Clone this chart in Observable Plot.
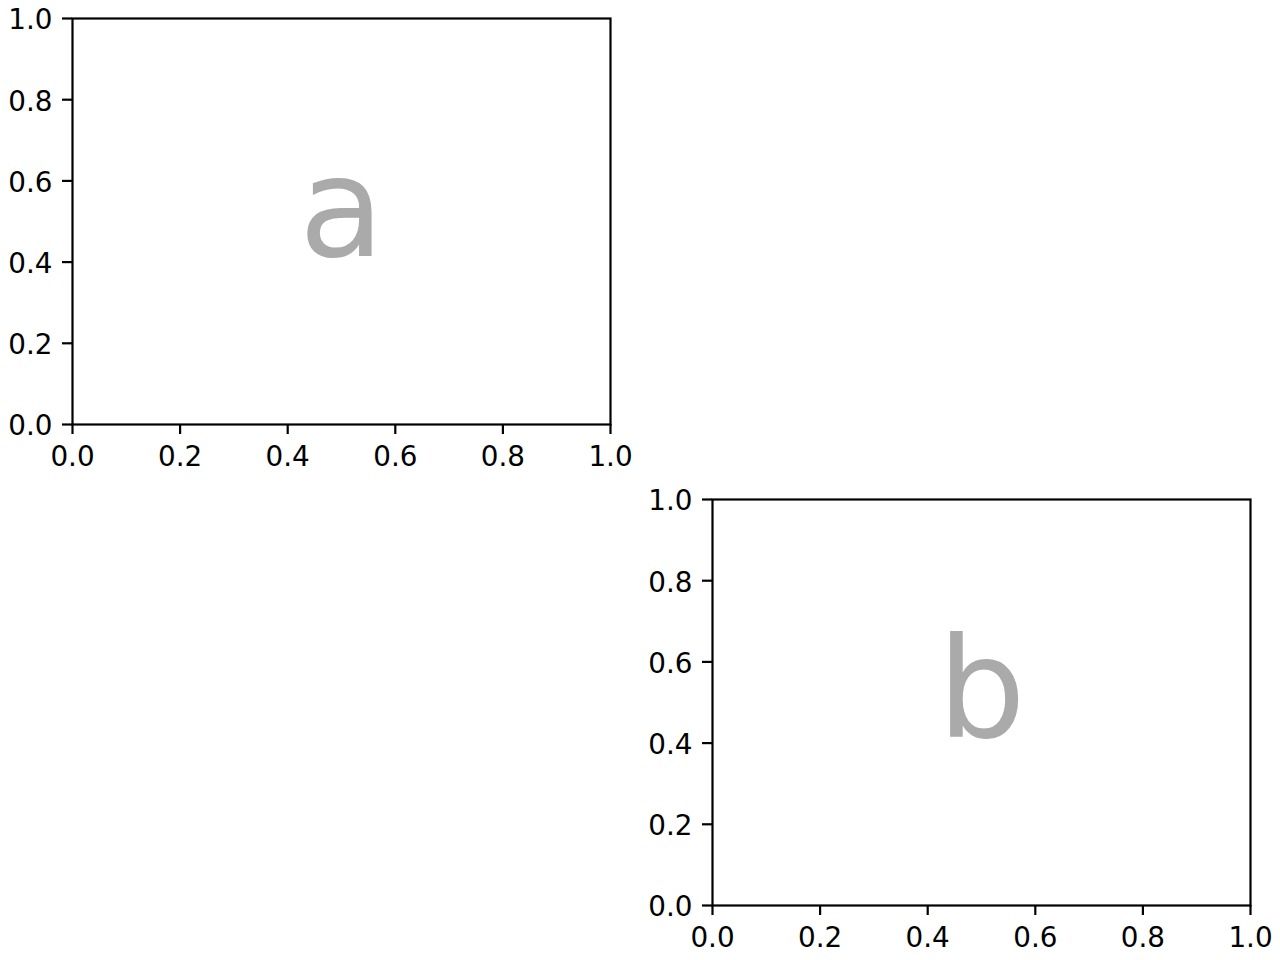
<!DOCTYPE html>
<html>
<head>
<meta charset="utf-8">
<script src="https://cdn.jsdelivr.net/npm/d3@7"></script>
<script src="https://cdn.jsdelivr.net/npm/@observablehq/plot@0.6"></script>
<style>
  html, body { margin: 0; padding: 0; background: #fff; }
  #fig { position: relative; width: 1280px; height: 960px; background: #fff; }
  #fig > div { position: absolute; }
</style>
</head>
<body>
<div id="fig">
  <div id="pa" style="left:0px; top:0px;"></div>
  <div id="pb" style="left:640px; top:480px;"></div>
</div>
<script>
// Data
const panelLabels = ["a", "b"];
const labelX = [0.5, 0.5];
const labelY = [0.5, 0.5];
const tickValues = [0, 0.2, 0.4, 0.6, 0.8, 1.0];
const axisDomain = [0, 1];

const FONT = "DejaVu Sans";
const TICK_FS = 27.8;

function panel(i, marginTop) {
  return Plot.plot({
    width: 640,
    height: 480,
    marginLeft: 72,
    marginRight: 30,
    marginTop: marginTop,
    marginBottom: 480 - marginTop - 406,
    x: { domain: axisDomain },
    y: { domain: axisDomain },
    style: {
      fontFamily: FONT,
      fontSize: TICK_FS + "px",
      color: "black",
      background: "transparent",
      overflow: "visible"
    },
    marks: [
      Plot.frame({ stroke: "black", strokeWidth: 2.2 }),
      Plot.axisX({
        ticks: tickValues,
        tickFormat: d3.format(".1f"),
        tickSize: 10,
        tickPadding: 12,
        strokeWidth: 2.2,
        fontSize: TICK_FS,
        fill: "black",
        stroke: "black",
        label: null
      }),
      // y tick marks only
      Plot.axisY({
        ticks: tickValues,
        tickSize: 10,
        text: null,
        strokeWidth: 2.2,
        stroke: "black",
        label: null
      }),
      // y tick labels only
      Plot.axisY({
        ticks: tickValues,
        tickFormat: d3.format(".1f"),
        tickSize: 0,
        tickPadding: 20,
        strokeOpacity: 0,
        fontSize: TICK_FS,
        fill: "black",
        dy: 2,
        label: null
      }),
      Plot.text([panelLabels[i]], {
        x: () => labelX[i],
        y: () => labelY[i],
        text: d => d,
        fontSize: 139,
        fill: "#aaaaaa",
        fontFamily: FONT,
        textAnchor: "middle",
        lineAnchor: "middle",
        dy: -10
      })
    ]
  });
}

document.getElementById("pa").appendChild(panel(0, 18));
document.getElementById("pb").appendChild(panel(1, 19));
</script>
</body>
</html>
